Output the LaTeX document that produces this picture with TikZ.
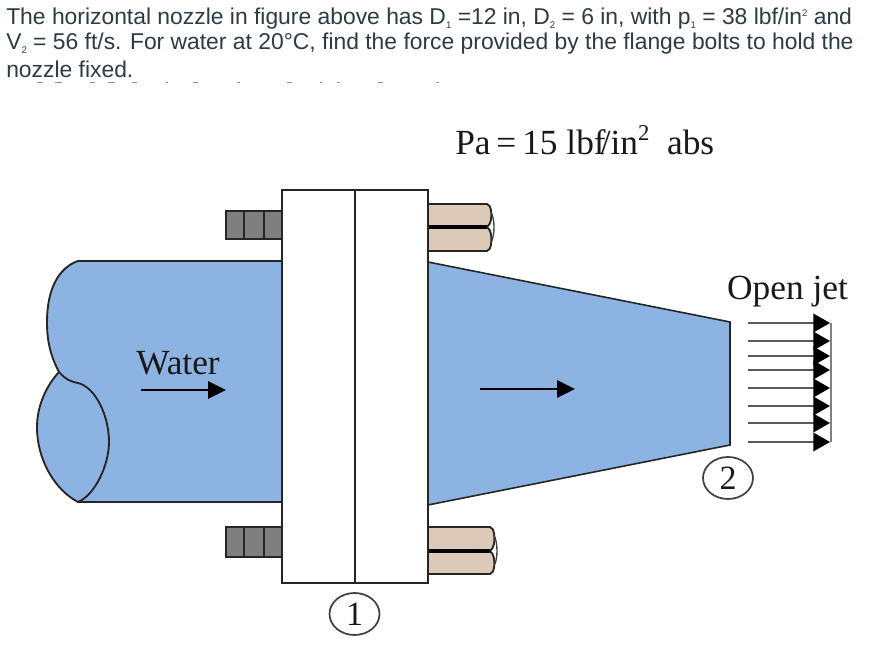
\documentclass[tikz,border=0pt]{standalone}
\usepackage{fontspec}
\setmainfont{Liberation Sans}
\newfontfamily\figfont{Liberation Serif}
\usetikzlibrary{arrows.meta,shapes.geometric}
\definecolor{waterblue}{HTML}{8DB3E2}
\definecolor{boltgrey}{HTML}{7F7F7F}
\definecolor{bolttan}{HTML}{DDC9B8}
\definecolor{bodytext}{HTML}{2D3B45}
\newcommand{\lowsub}[1]{\raisebox{-0.16em}{\scalebox{0.42}{#1}}}
\newcommand{\highsup}[1]{\raisebox{0.36em}{\scalebox{0.42}{#1}}}
\tikzset{
  headtext/.style={anchor=base west,inner sep=0pt,text=bodytext,font=\fontsize{17.15}{19}\selectfont},
  figtext/.style={inner sep=0pt,font=\figfont\fontsize{26.5}{28}\selectfont,text=black!90},
  stationmark/.style={ellipse,draw=black!75,line width=1.3pt,minimum width=37.5pt,minimum height=31.5pt,inner sep=0pt,font=\figfont\fontsize{25.5}{28}\selectfont,text=black!90},
  outline/.style={draw=black!85,line width=1.4pt},
  flowarrow/.style={draw=black,line width=1.4pt,-{Triangle[length=13.5pt,width=13pt]}},
  jetarrow/.style={draw=black!65,line width=1.1pt,-{Triangle[length=12.5pt,width=14pt,color=black]}},
  greybolt/.style={fill=boltgrey,outline},
  tanbolt/.style={fill=bolttan,draw=black!85,line width=1.4pt,line join=round},
}
\begin{document}
\begin{tikzpicture}[x=0.75pt,y=-0.75pt]
\useasboundingbox[fill=white] (0,0) rectangle (882,648);
% header text
\node[headtext] (l1) at (6,25) {The horizontal nozzle in figure above has D\lowsub{1} =12 in, D\lowsub{2} = 6 in, with p\lowsub{1} = 38 lbf/in\highsup{2} and};
\node[headtext] (l2) at (6,50) {V\lowsub{2} = 56 ft/s. For water at 20°C, find the force provided by the flange bolts to hold the};
\node[headtext] (l3) at (6,78) {nozzle fixed.};
\foreach \xa/\xb in {37/43,55/62,90/95,108/115,132/137,166/168,193/198,237/240,287/292,320/322,337/340,378/383,436/439}{
  \draw[black!45,line width=0.8pt] (\xa,82.5) -- (\xb,82.5);
}
% pipe
\fill[waterblue] (78,261) -- (282,261) -- (282,502) -- (78,502)
  .. controls (55,490) and (37,460) .. (37,427)
  .. controls (37,405) and (47,385) .. (59,372)
  .. controls (50,355) and (47,340) .. (47,322)
  .. controls (47,290) and (58,268) .. (78,261) -- cycle;
\draw[outline] (282,261) -- (78,261)
  .. controls (58,268) and (47,290) .. (47,322)
  .. controls (47,340) and (50,355) .. (59,372)
  .. controls (66,380) and (72,382) .. (78,383)
  .. controls (95,387) and (109,415) .. (109,442)
  .. controls (109,465) and (95,495) .. (78,502)
  .. controls (55,490) and (37,460) .. (37,427)
  .. controls (37,405) and (47,385) .. (59,372);
\draw[outline] (78,502) -- (282,502);
% nozzle
\path[fill=waterblue,draw=black!85,line width=1.2pt] (428,262) -- (730,322) -- (730,445) -- (428,505);
% grey bolts
\foreach \ya/\yb in {211/239,527/557}{
  \draw[greybolt] (226,\ya) rectangle (282,\yb);
  \draw[outline] (244,\ya) -- (244,\yb) (264,\ya) -- (264,\yb);
}
% tan bolts
\foreach \ya/\ym/\yb/\xe in {204/227/251/490,527/551/574/493}{
  \path[tanbolt] (428,\ya) -- (\xe-3,\ya)
    .. controls (\xe,\ya+1) and (\xe,\ya+3) .. (\xe+1,\ya+6)
    .. controls (\xe+2,\ym-9) and (\xe+1,\ym-3) .. (\xe-3,\ym)
    .. controls (\xe+1,\ym+3) and (\xe+2,\ym+9) .. (\xe+1,\yb-6)
    .. controls (\xe,\yb-3) and (\xe,\yb-1) .. (\xe-3,\yb) -- (428,\yb);
  \draw[black,line width=3.2pt] (428,\ym) -- (\xe-3,\ym);
  \draw[black!75,line width=1pt] (\xe+1,\ya+8) .. controls (\xe+5,\ym-8) and (\xe+5,\ym+8) .. (\xe+1,\yb-8);
}
% flange
\node[draw=black!85,fill=white,line width=1.4pt,minimum width=109.5pt,minimum height=294.75pt,inner sep=0pt] (flange) at (355,386.5) {};
\draw[outline] (flange.north) -- (flange.south);
% flow arrows
\coordinate (w1) at (141,390); \coordinate (w2) at (226,390);
\coordinate (n1) at (480,389); \coordinate (n2) at (575,389);
\draw[flowarrow] (w1) -- (w2);
\draw[flowarrow] (n1) -- (n2);
% jet
\draw[draw=black!50,line width=1.8pt] (831,323) -- (831,442);
\foreach \i/\yy in {1/323,2/341,3/356,4/370,5/388,6/406,7/423,8/442}{
  \coordinate (ja\i) at (748,\yy); \coordinate (jb\i) at (830,\yy);
  \draw[jetarrow] (ja\i) -- (jb\i);
}
% labels
\node[figtext] (water) at (178,363) {Water};
\node[figtext] (open) at (787.5,292) {Open jet};
\node[figtext,anchor=base west] (pa) at (455,155) {Pa\,=\,15 lbf\kern-0.14em/in\raisebox{0.42em}{\fontsize{17}{18}\selectfont 2}\ \ abs};
\node[stationmark] (st1) at (354.5,614) {1};
\node[stationmark] (st2) at (728,478) {2};
\end{tikzpicture}
\end{document}
